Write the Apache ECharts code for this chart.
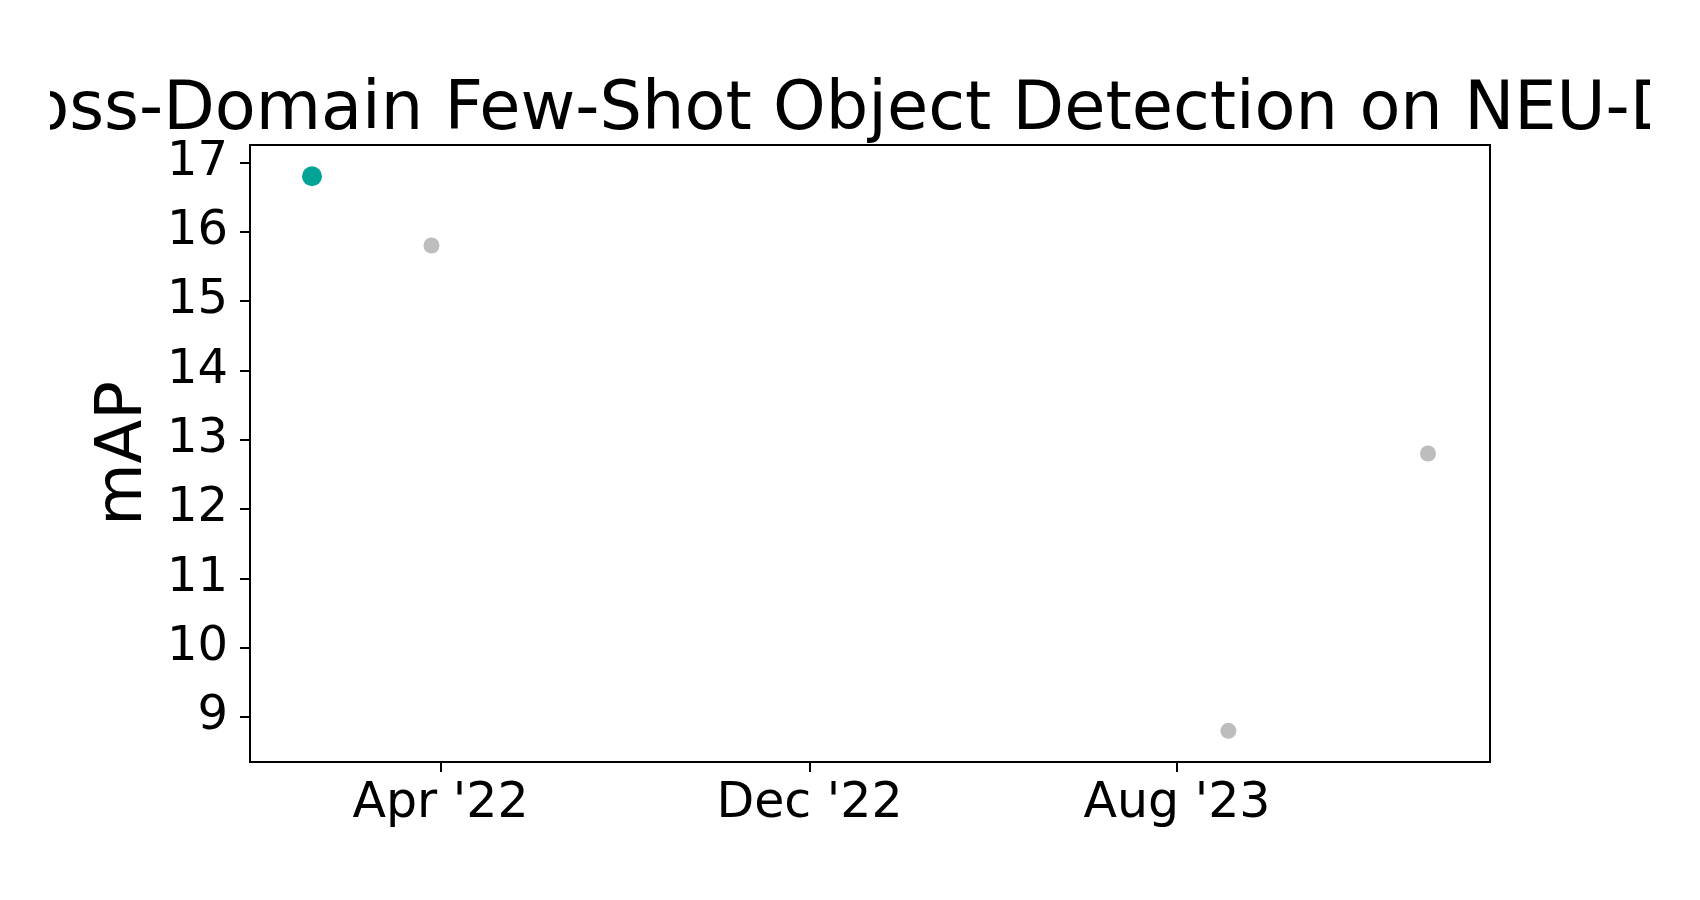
<!DOCTYPE html>
<html>
<head>
<meta charset="utf-8">
<title>Cross-Domain Few-Shot Object Detection on NEU-DET</title>
<script src="https://cdn.jsdelivr.net/npm/echarts@6/dist/echarts.min.js"></script>
<style>
    html, body { margin: 0; padding: 0; background: #fff; }
    #chart { width: 1700px; height: 900px; }
</style>
</head>
<body>
<div id="chart"></div>
<script>
// Data
const chartTitle = 'Cross-Domain Few-Shot Object Detection on NEU-DET'
const yName = 'mAP'

// state-of-the-art point (highlighted)
const bestDates = ['2022-01-06']
const bestValues = [16.8]

// other results
const otherDates = ['2022-03-26', '2023-09-04', '2024-01-14']
const otherValues = [15.8, 8.8, 12.8]

// axis ticks
const xTickDates = ['2022-04-01', '2022-12-01', '2023-08-01']
const xTickLabels = ["Apr '22", "Dec '22", "Aug '23"]
const yTicks = [9, 10, 11, 12, 13, 14, 15, 16, 17]

const xRange = ['2021-11-26', '2024-02-24']
const yRange = [8.35, 17.25]

const FONT = "'DejaVu Sans', sans-serif"

// dates -> ms; the x axis is a plain value axis over timestamps
function toTime(s) {
    const [y, m, d] = s.split('-').map(Number)
    return Date.UTC(y, m - 1, d)
}

const xTickTimes = xTickDates.map(toTime)

const chart = echarts.init(document.getElementById('chart'), null, { renderer: 'canvas' })

chart.setOption({
    backgroundColor: '#ffffff',
    animation: false,
    textStyle: { fontFamily: FONT },
    grid: {
        left: 250,
        right: 210,
        top: 145,
        bottom: 138,
        show: true,
        borderColor: '#000',
        borderWidth: 2,
        backgroundColor: 'transparent'
    },
    xAxis: {
        type: 'value',
        min: toTime(xRange[0]),
        max: toTime(xRange[1]),
        axisLine: { show: true, lineStyle: { color: '#000', width: 2 } },
        axisTick: {
            show: true,
            length: 10,
            lineStyle: { color: '#000', width: 2 },
            customValues: xTickTimes
        },
        axisLabel: {
            fontFamily: FONT,
            fontSize: 49,
            color: '#000',
            margin: 18,
            customValues: xTickTimes,
            formatter: (v) => {
                const i = xTickTimes.indexOf(v)
                return i >= 0 ? xTickLabels[i] : ''
            }
        },
        splitLine: { show: false }
    },
    yAxis: {
        type: 'value',
        min: yRange[0],
        max: yRange[1],
        name: yName,
        nameLocation: 'middle',
        nameGap: 83,
        nameTextStyle: { fontFamily: FONT, fontSize: 64, color: '#000' },
        axisLine: { show: true, lineStyle: { color: '#000', width: 2 } },
        axisTick: {
            show: true,
            length: 10,
            lineStyle: { color: '#000', width: 2 },
            customValues: yTicks
        },
        axisLabel: {
            fontFamily: FONT,
            fontSize: 48,
            color: '#000',
            margin: 22,
            customValues: yTicks
        },
        splitLine: { show: false }
    },
    series: [
        {
            name: 'other',
            type: 'scatter',
            symbol: 'circle',
            symbolSize: 16,
            itemStyle: { color: '#bdbdbd', opacity: 1 },
            data: otherDates.map((d, i) => [toTime(d), otherValues[i]])
        },
        {
            name: 'best',
            type: 'scatter',
            symbol: 'circle',
            symbolSize: 20,
            itemStyle: { color: '#00a396', opacity: 1 },
            data: bestDates.map((d, i) => [toTime(d), bestValues[i]])
        }
    ],
    graphic: [
        {
            type: 'text',
            x: 860,
            y: 112,
            z: 10,
            style: {
                text: chartTitle,
                font: '67px ' + FONT,
                fill: '#000',
                align: 'center',
                verticalAlign: 'middle'
            }
        },
        // the source figure cuts the long title off at both sides
        { type: 'rect', z: 20, shape: { x: 0, y: 30, width: 50, height: 112 }, style: { fill: '#fff' } },
        { type: 'rect', z: 20, shape: { x: 1650, y: 30, width: 50, height: 112 }, style: { fill: '#fff' } }
    ]
})
</script>
</body>
</html>
